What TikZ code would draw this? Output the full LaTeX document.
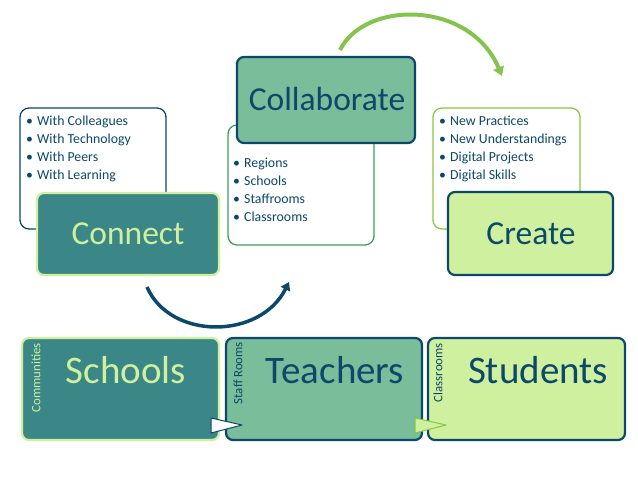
\documentclass[tikz,border=0pt]{standalone}
\usepackage{fontspec}
\setmainfont{Carlito}
\usetikzlibrary{arrows.meta}
\definecolor{cteal}{HTML}{3B8686}
\definecolor{cmid}{HTML}{79BD9A}
\definecolor{clight}{HTML}{CFF09E}
\definecolor{cdark}{HTML}{0B486B}
\definecolor{cgreen}{HTML}{3E9E5E}
\definecolor{clime}{HTML}{8CC63F}
\definecolor{carc}{HTML}{84C44C}
\tikzset{
  x=1pt, y=-1pt,
  listbox/.style={line width=1.3pt, rounded corners=9pt, fill=white},
  mainbox/.style={line width=2.2pt, rounded corners=7pt},
  listtext/.style={anchor=north west, align=left, inner sep=0pt, text=cdark,
    font=\fontsize{13.8}{18}\selectfont},
  bigtext/.style={font=\fontsize{33.5}{36}\selectfont, inner sep=0pt},
  hugetext/.style={font=\fontsize{39}{42}\selectfont, inner sep=0pt},
  sidetext/.style={font=\fontsize{12.8}{14}\selectfont, rotate=90, anchor=east, inner sep=0pt},
}
\newcommand{\bl}[1]{\makebox[11pt][l]{\textbullet}#1}
\begin{document}
\begin{tikzpicture}
\useasboundingbox (0,0) rectangle (638,478);
% list boxes
\draw[listbox, draw=cdark] (20,108) rectangle (166,229);
\node[listtext] (l1) at (26,116) {\bl{With Colleagues}\\\bl{With Technology}\\\bl{With Peers}\\\bl{With Learning}};
\draw[listbox, draw=cgreen] (228,125) rectangle (374,245);
\node[listtext] (l2) at (233,158) {\bl{Regions}\\\bl{Schools}\\\bl{Staffrooms}\\\bl{Classrooms}};
\draw[listbox, draw=clime] (433,108) rectangle (580,229);
\node[listtext] (l3) at (439,116) {\bl{New Practices}\\\bl{New Understandings}\\\bl{Digital Projects}\\\bl{Digital Skills}};
% main boxes
\draw[mainbox, fill=cteal, draw=clight] (37,193) rectangle (219,275);
\node[bigtext, text=clight] (connect) at (128,234) {Connect};
\draw[mainbox, fill=cmid, draw=cdark] (237,57) rectangle (415,143);
\node[bigtext, text=cdark] (collab) at (327,99) {Collaborate};
\draw[mainbox, fill=clight, draw=cdark] (448,192) rectangle (613,275);
\node[bigtext, text=cdark] (create) at (531,234) {Create};
% arcs
\coordinate (a1s) at (340,50);
\coordinate (a1e) at (502,76);
\draw[carc, line width=4pt, -{Triangle[length=9pt,width=11pt]}] (a1s) .. controls (365,0) and (470,0) .. (a1e);
\coordinate (a2s) at (147,287);
\coordinate (a2e) at (289,282);
\draw[cdark, line width=3.5pt, -{Triangle[length=8pt,width=10pt]}] (a2s) .. controls (170,340) and (260,340) .. (a2e);
% bottom boxes
\draw[mainbox, fill=cteal, draw=clight] (22,338) rectangle (219,440);
\node[hugetext, text=clight] (schools) at (126,370) {Schools};
\node[sidetext, text=clight] (comm) at (36,343) {Communities};
\draw[mainbox, fill=cmid, draw=cdark] (226,338) rectangle (422,440);
\node[hugetext, text=cdark] (teachers) at (335,370) {Teachers};
\node[sidetext, text=cdark] (staff) at (238,342) {Staff Rooms};
\draw[mainbox, fill=clight, draw=cdark] (428,338) rectangle (625,440);
\node[hugetext, text=cdark] (students) at (538,370) {Students};
\node[sidetext, text=cdark] (class) at (438,343) {Classrooms};
% small triangles
\coordinate (t1a) at (211,418);
\coordinate (t1b) at (211,433);
\coordinate (t1c) at (242,425);
\draw[cdark, fill=white, line width=1pt, line join=round] (t1a) -- (t1c) -- (t1b) -- cycle;
\coordinate (t2a) at (415,418);
\coordinate (t2b) at (415,433);
\coordinate (t2c) at (446,425);
\draw[clime, fill=clight, line width=1pt, line join=round] (t2a) -- (t2c) -- (t2b) -- cycle;
\end{tikzpicture}
\end{document}
